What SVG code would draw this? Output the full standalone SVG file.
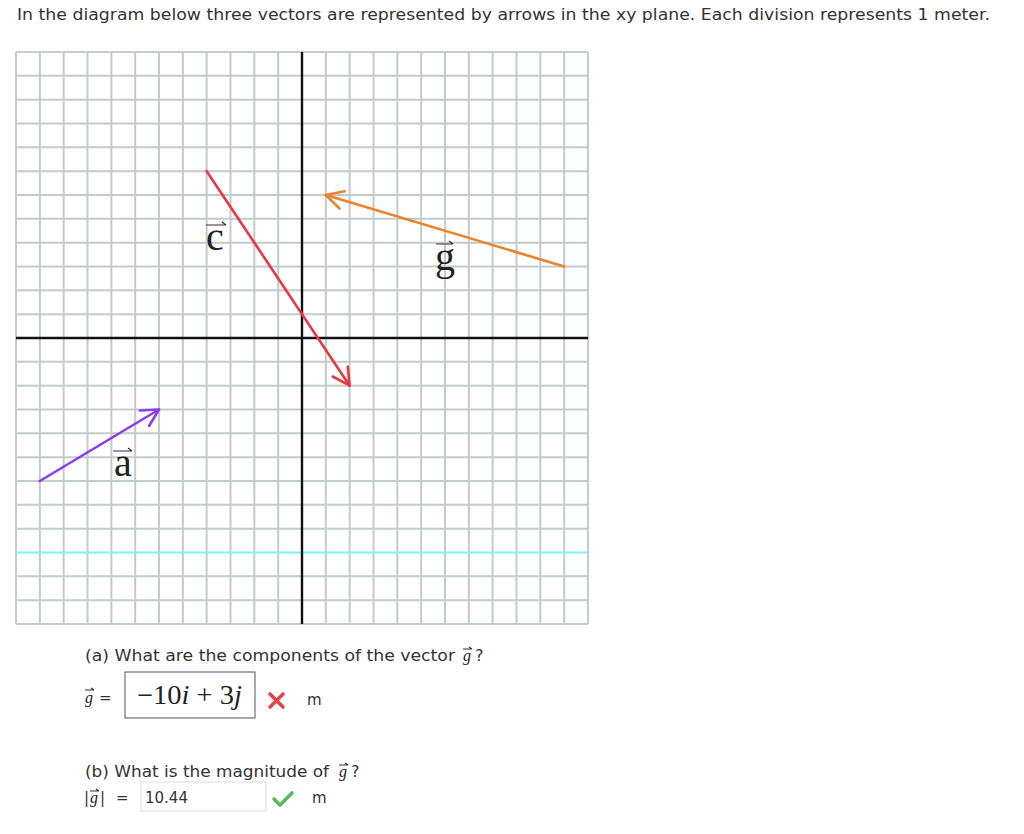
<svg xmlns="http://www.w3.org/2000/svg" width="1024" height="834" viewBox="0 0 1024 834">
<style>
.sans{font-family:"DejaVu Sans","Liberation Sans",sans-serif;fill:#333}
.serif{font-family:"Liberation Serif","DejaVu Serif",serif;fill:#222}
.grid{stroke:#c3cbcb;stroke-width:2;fill:none}
.vec{stroke-width:2.6;fill:none;stroke-linecap:round}
.acc{stroke:#333;stroke-width:1.2;fill:none}
</style>
<defs>
<marker id="hp" viewBox="-20 -11 22 22" refX="0" refY="0" markerWidth="22" markerHeight="22" markerUnits="userSpaceOnUse" orient="auto"><path d="M-17,-9 L0,0 L-17,9" stroke="#8a3ef2" stroke-width="2.6" fill="none" stroke-linecap="round" stroke-linejoin="round"/></marker>
<marker id="hr" viewBox="-20 -11 22 22" refX="0" refY="0" markerWidth="22" markerHeight="22" markerUnits="userSpaceOnUse" orient="auto"><path d="M-17,-9 L0,0 L-17,9" stroke="#e8393e" stroke-width="2.6" fill="none" stroke-linecap="round" stroke-linejoin="round"/></marker>
<marker id="ho" viewBox="-20 -11 22 22" refX="0" refY="0" markerWidth="22" markerHeight="22" markerUnits="userSpaceOnUse" orient="auto"><path d="M-17,-9 L0,0 L-17,9" stroke="#e8832c" stroke-width="2.6" fill="none" stroke-linecap="round" stroke-linejoin="round"/></marker>
</defs>
<rect width="1024" height="834" fill="#fff"/>
<text class="sans" x="17" y="20" font-size="15" textLength="973" lengthAdjust="spacingAndGlyphs">In the diagram below three vectors are represented by arrows in the xy plane. Each division represents 1 meter.</text>
<g id="grid">
<path class="grid" d="M16,52V624M39.83,52V624M63.67,52V624M87.5,52V624M111.33,52V624M135.17,52V624M159,52V624M182.83,52V624M206.67,52V624M230.5,52V624M254.33,52V624M278.17,52V624M325.83,52V624M349.67,52V624M373.5,52V624M397.33,52V624M421.17,52V624M445,52V624M468.83,52V624M492.67,52V624M516.5,52V624M540.33,52V624M564.17,52V624M588,52V624"/>
<path class="grid" d="M16,52H588M16,75.83H588M16,99.67H588M16,123.5H588M16,147.33H588M16,171.17H588M16,195H588M16,218.83H588M16,242.67H588M16,266.5H588M16,290.33H588M16,314.17H588M16,361.83H588M16,385.67H588M16,409.5H588M16,433.33H588M16,457.17H588M16,481H588M16,504.83H588M16,528.67H588M16,576.33H588M16,600.17H588M16,624H588"/>
<path d="M16,552.5H588" stroke="#7ff0f4" stroke-width="2.2"/>
<path d="M302,52V624M16,338H588" stroke="#111" stroke-width="2.4"/>
</g>
<g id="connectors">
<line id="vec-a" class="vec" x1="39.83" y1="481" x2="159" y2="409.5" stroke="#8a3ef2" marker-end="url(#hp)"/>
<line id="vec-c" class="vec" x1="206.67" y1="171.17" x2="349.67" y2="385.67" stroke="#e8393e" marker-end="url(#hr)"/>
<line id="vec-g" class="vec" x1="564.17" y1="266.5" x2="325.83" y2="195" stroke="#e8832c" marker-end="url(#ho)"/>
</g>
<g id="label-a">
<text class="serif" x="123" y="476" font-size="40" text-anchor="middle">a</text>
<path class="acc" d="M113,451H132M128,448L132,451"/>
</g>
<g id="label-c">
<text class="serif" x="215" y="250" font-size="40" text-anchor="middle">c</text>
<path class="acc" d="M206,225H226M222,222L226,225"/>
</g>
<g id="label-g">
<text class="serif" x="445" y="270" font-size="40" text-anchor="middle">g</text>
<path class="acc" d="M436,244H453M449,241L453,244"/>
</g>
<g id="question-a">
<text class="sans" x="85" y="661" font-size="16" textLength="370" lengthAdjust="spacingAndGlyphs">(a) What are the components of the vector</text>
<text class="serif" x="463" y="661" font-size="16" font-style="italic">g</text>
<path class="acc" d="M463,649H472M469,647L472,649"/>
<text class="sans" x="475" y="661" font-size="16">?</text>
<text class="serif" x="85" y="703" font-size="16" font-style="italic">g</text>
<path class="acc" d="M85,690H94M91,688L94,690"/>
<text class="sans" x="99" y="703" font-size="15">=</text>
<rect x="125" y="672" width="130" height="46" fill="#fff" stroke="#555" stroke-width="1"/>
<text class="serif" x="137" y="704" font-size="27" fill="#222" textLength="105" lengthAdjust="spacingAndGlyphs">−10<tspan font-style="italic">i</tspan> + 3<tspan font-style="italic">j</tspan></text>
<path d="M270,694L283,707M283,694L270,707" stroke="#e0474c" stroke-width="3.6" stroke-linecap="round"/>
<text class="sans" x="307" y="705" font-size="15">m</text>
</g>
<g id="question-b">
<text class="sans" x="85" y="777" font-size="16" textLength="244" lengthAdjust="spacingAndGlyphs">(b) What is the magnitude of</text>
<text class="serif" x="339" y="777" font-size="16" font-style="italic">g</text>
<path class="acc" d="M339,765H348M345,763L348,765"/>
<text class="sans" x="351" y="777" font-size="16">?</text>
<text class="sans" x="84" y="803" font-size="15">|</text>
<text class="serif" x="90" y="803" font-size="16" font-style="italic">g</text>
<path class="acc" d="M90,791H99M96,789L99,791"/>
<text class="sans" x="100" y="803" font-size="15">|</text>
<text class="sans" x="116" y="803" font-size="15">=</text>
<rect x="141" y="782" width="125" height="29" fill="#fff" stroke="#ddd" stroke-width="1"/>
<text class="sans" x="145" y="803" font-size="15">10.44</text>
<path d="M274,799L280,805L292,793" stroke="#5cb85c" stroke-width="3.6" fill="none" stroke-linecap="round" stroke-linejoin="round"/>
<text class="sans" x="312" y="803" font-size="15">m</text>
</g>
</svg>
